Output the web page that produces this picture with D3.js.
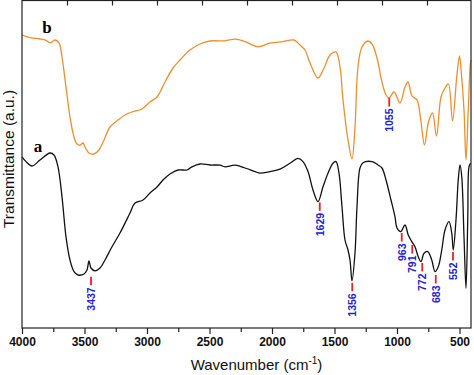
<!DOCTYPE html>
<html>
<head>
<meta charset="utf-8">
<script src="https://cdn.jsdelivr.net/npm/d3@7"></script>
<style>
  body { margin: 0; background: #fff; }
  #container { width: 474px; height: 375px; }
  .tickLabel { font-family: Arial, "Liberation Sans", sans-serif; font-weight: bold; font-size: 12px; }
  .peakLabel { font-family: Arial, "Liberation Sans", sans-serif; font-weight: bold; font-size: 10.5px; fill: #2222cc; }
</style>
</head>
<body>
<div id="container"></div>
<script>
'use strict';
// spectrum a (black): [wavenumber, transmittance a.u.]
var spectrumA = [
    [4000, 42.8], [3968, 41.6], [3920, 40.5], [3856, 42], [3776, 43.75], [3744, 43.25],
    [3712, 40.3], [3680, 32.8], [3648, 22.8], [3616, 17], [3584, 14.1], [3552, 13.25],
    [3504, 13.5], [3480, 14.5], [3464, 16.8], [3448, 15], [3416, 14.3], [3376, 15],
    [3336, 17], [3280, 20.3], [3216, 23.75], [3136, 28.75], [3096, 31.25], [3032, 32],
    [2976, 33.75], [2920, 35.25], [2872, 37], [2816, 38.5], [2752, 39.5], [2680, 39.5],
    [2640, 40.3], [2576, 41], [2496, 40.75], [2416, 40.7], [2376, 40.3], [2296, 40.7],
    [2216, 40], [2136, 39.1], [2096, 38.7], [2016, 39.1], [1936, 39.7], [1856, 41.2],
    [1792, 42.4], [1752, 41.6], [1712, 39.1], [1672, 34.5], [1632, 31.6], [1592, 35.3],
    [1552, 38.7], [1512, 41.2], [1488, 41.6], [1464, 38.7], [1440, 30.3], [1416, 22],
    [1392, 19.5], [1376, 17], [1360, 11.8], [1336, 18.75], [1320, 30.3], [1296, 40],
    [1272, 41.3], [1200, 41.6], [1152, 40.75], [1120, 40], [1088, 37], [1048, 32],
    [1016, 27.8], [1000, 25], [970, 24.1], [936, 25.75], [910, 23.25], [882, 21.6],
    [856, 20.3], [830, 17.8], [808, 16.6], [784, 18.7], [754, 19.1], [722, 17],
    [696, 14.1], [670, 15.3], [642, 19.5], [616, 24.5], [584, 26.6], [562, 23.7],
    [550, 19.5], [528, 27], [510, 37], [496, 40.75], [482, 37.8], [464, 22.8],
    [448, 9.9], [434, 27], [424, 40.3], [412, 41.25]
];

// spectrum b (orange)
var spectrumB = [
    [4000, 73.25], [3936, 72.6], [3856, 72.25], [3808, 71.9], [3776, 71.3], [3736, 72],
    [3704, 71.3], [3680, 67.75], [3648, 60.25], [3616, 52.75], [3584, 47.75], [3560, 46],
    [3536, 45.75], [3512, 46.25], [3496, 45.25], [3464, 43.75], [3424, 43.5], [3384, 44.5],
    [3344, 47], [3296, 50.25], [3232, 52], [3176, 53.25], [3120, 54], [3040, 54.75],
    [2976, 56.5], [2920, 57.75], [2856, 61.5], [2792, 65], [2736, 67], [2656, 69.5],
    [2576, 71], [2496, 71.75], [2376, 71.8], [2296, 72.2], [2216, 71.6], [2112, 70.3],
    [2016, 71.2], [1912, 71.6], [1824, 72], [1776, 70.75], [1736, 69.5], [1696, 66.25],
    [1632, 62.5], [1584, 65], [1536, 68.25], [1488, 69], [1456, 65.25], [1432, 57],
    [1392, 47], [1360, 42.25], [1336, 50.25], [1312, 65.25], [1280, 70.25], [1232, 71.75],
    [1200, 71], [1160, 67.5], [1120, 61.5], [1088, 58.25], [1064, 57.5], [1024, 59],
    [976, 56.25], [936, 60.25], [912, 61.5], [880, 58], [840, 57], [812, 52.5],
    [780, 45.75], [748, 51.5], [716, 53.75], [684, 48], [648, 57.75], [616, 60],
    [589, 61], [556, 51.75], [522, 62.75], [500, 68], [484, 63.25], [464, 54.5],
    [448, 42], [430, 54.5], [414, 65.75], [408, 67]
];

// peak marks: text, wavenumber where the mark sits, top of the mark
var peakText = ['3437', '1629', '1356', '963', '791', '772', '683', '552', '1055'];
var peakWave = [3448, 1618, 1358, 962, 878, 798, 690, 552, 1062];
var peakTop  = [12.8, 31.4, 11.3, 23.75, 20.75, 16.25, 13.25, 19, 57.5];

var xTicks = [4000, 3500, 3000, 2500, 2000, 1500, 1000, 500];
var xMinor = [3750, 3250, 2750, 2250, 1750, 1250, 750];
var topTicks = [3640, 3280, 2920, 2560, 2200, 1840, 1480, 1120, 760];

(function() {
    var W = 474, H = 375;
    var left = 22, right = 471, top = 0.5, bottom = 328;

    var svg = d3.select('#container').append('svg')
        .attr('width', W)
        .attr('height', H);

    var x = d3.scaleLinear().domain([4000, 408]).range([left, right]);
    var y = d3.scaleLinear().domain([0, 82]).range([bottom, 0]);

    var line = d3.line()
        .x(function(d) { return x(d[0]); })
        .y(function(d) { return y(d[1]); })
        .curve(d3.curveCatmullRom.alpha(0.5));

    // spectra
    svg.append('path')
        .datum(spectrumB)
        .attr('d', line)
        .attr('fill', 'none')
        .attr('stroke', '#ef8e2c')
        .attr('stroke-width', 1.3);

    svg.append('path')
        .datum(spectrumA)
        .attr('d', line)
        .attr('fill', 'none')
        .attr('stroke', '#111')
        .attr('stroke-width', 1.3);

    // peak marks
    var peaks = peakText.map(function(t, i) {
        return {text: t, w: peakWave[i], top: peakTop[i]};
    });
    var pk = svg.selectAll('.peak').data(peaks).enter().append('g').attr('class', 'peak');
    pk.append('line')
        .attr('x1', function(d) { return x(d.w); })
        .attr('x2', function(d) { return x(d.w); })
        .attr('y1', function(d) { return y(d.top); })
        .attr('y2', function(d) { return y(d.top) + 8.5; })
        .attr('stroke', '#e8202a')
        .attr('stroke-width', 1.8);
    pk.append('text')
        .attr('class', 'peakLabel')
        .attr('text-anchor', 'end')
        .attr('transform', function(d) {
            return 'translate(' + (x(d.w) + 3.8) + ',' + (y(d.top) + 10.5) + ') rotate(-90)';
        })
        .text(function(d) { return d.text; });

    // frame
    svg.append('rect')
        .attr('x', left).attr('y', top)
        .attr('width', right - left).attr('height', bottom - top)
        .attr('fill', 'none')
        .attr('stroke', '#222')
        .attr('stroke-width', 1.2);

    // bottom axis
    var axisBottom = d3.axisBottom(x)
        .tickValues(xTicks)
        .tickSize(6)
        .tickFormat(d3.format('d'));
    var gx = svg.append('g')
        .attr('transform', 'translate(0,' + bottom + ')')
        .call(axisBottom);
    gx.select('.domain').remove();
    gx.selectAll('line').attr('stroke', '#222').attr('stroke-width', 1.2);
    gx.selectAll('text')
        .attr('class', 'tickLabel')
        .attr('fill', '#111')
        .attr('y', 9);

    var minor = svg.append('g')
        .attr('transform', 'translate(0,' + bottom + ')')
        .call(d3.axisBottom(x).tickValues(xMinor).tickSize(4).tickFormat(''));
    minor.select('.domain').remove();
    minor.selectAll('line').attr('stroke', '#222').attr('stroke-width', 1.2);

    // top ticks pointing in
    var gt = svg.append('g')
        .attr('transform', 'translate(0,' + top + ')')
        .call(d3.axisBottom(x).tickValues(topTicks).tickSize(5).tickFormat(''));
    gt.select('.domain').remove();
    gt.selectAll('line').attr('stroke', '#222').attr('stroke-width', 1.2);

    // axis titles
    var xt = svg.append('text')
        .attr('x', (left + right) / 2 + 10)
        .attr('y', 370)
        .attr('text-anchor', 'middle')
        .style('font-family', 'Arial, "Liberation Sans", sans-serif')
        .style('font-size', '15px')
        .attr('fill', '#111');
    xt.append('tspan').text('Wavenumber (cm');
    xt.append('tspan').attr('dy', -6).style('font-size', '10px').text('-1');
    xt.append('tspan').attr('dy', 6).text(')');

    svg.append('text')
        .attr('transform', 'translate(13.5,159) rotate(-90)')
        .attr('text-anchor', 'middle')
        .style('font-family', 'Arial, "Liberation Sans", sans-serif')
        .style('font-size', '15.5px')
        .attr('fill', '#111')
        .text('Transmittance (a.u.)');

    // curve letters
    var letters = [{t: 'b', w: 3800, v: 73.75}, {t: 'a', w: 3872, v: 44}];
    svg.selectAll('.letter').data(letters).enter().append('text')
        .attr('class', 'letter')
        .attr('x', function(d) { return x(d.w); })
        .attr('y', function(d) { return y(d.v); })
        .attr('text-anchor', 'middle')
        .style('font-family', '"Liberation Serif", "Times New Roman", serif')
        .style('font-weight', 'bold')
        .style('font-size', '17px')
        .text(function(d) { return d.t; });
})();
</script>
</body>
</html>
